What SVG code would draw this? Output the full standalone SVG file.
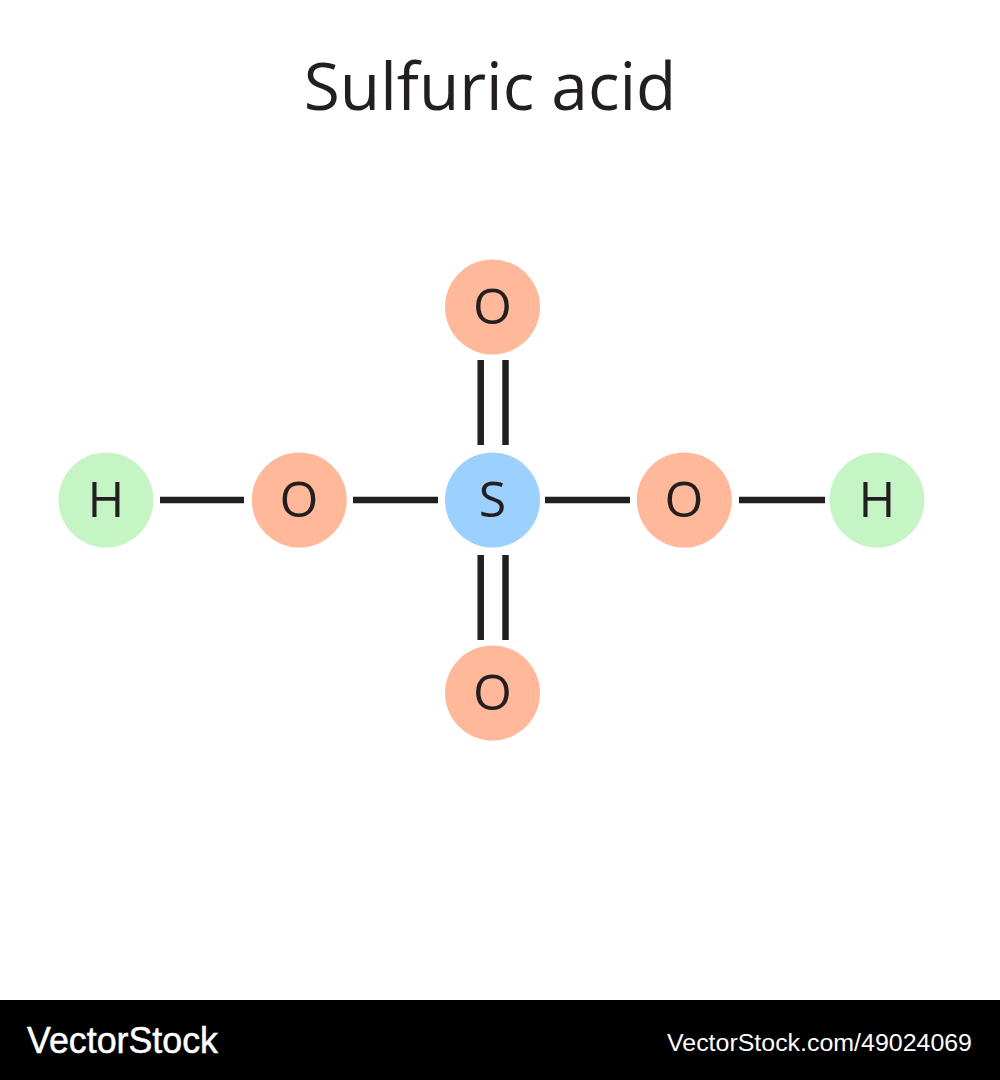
<svg xmlns="http://www.w3.org/2000/svg" width="1000" height="1080" viewBox="0 0 1000 1080">
<style>
.t{font-family:"Open Sans","Noto Sans",sans-serif;fill:#231f20;text-anchor:middle}
.a{font-size:50px}
.b{stroke:#231f20;stroke-width:6.500;fill:none}
.o{fill:#ffb899}.h{fill:#c5f5c5}.s{fill:#9bd0ff}
.w{font-family:"Liberation Sans",Arial,sans-serif;fill:#fff}
</style>
<rect width="1000" height="1080" fill="#fff"/>
<text id="title" class="t" x="490" y="110" font-size="65.800">Sulfuric acid</text>
<g id="connectors" class="b">
<path d="M160 500H244M353 500H438M545 500H630M739 500H825"/>
<path d="M480.700 360V445M505.500 360V445M480.700 555V640M505.500 555V640"/>
</g>
<g id="h1"><circle class="h" cx="106" cy="500" r="47.500"/><text class="t a" x="106" y="517">H</text></g>
<g id="o1"><circle class="o" cx="299.300" cy="500" r="47.500"/><text class="t a" x="299" y="517">O</text></g>
<g id="s"><circle class="s" cx="492.500" cy="500" r="47.500"/><text class="t a" x="492.500" y="517">S</text></g>
<g id="o2"><circle class="o" cx="684.300" cy="500" r="47.500"/><text class="t a" x="684" y="517">O</text></g>
<g id="h2"><circle class="h" cx="877" cy="500" r="47.500"/><text class="t a" x="877" y="517">H</text></g>
<g id="o3"><circle class="o" cx="492.500" cy="307" r="47.500"/><text class="t a" x="492.500" y="324">O</text></g>
<g id="o4"><circle class="o" cx="492.500" cy="693" r="47.500"/><text class="t a" x="492.500" y="710">O</text></g>
<rect x="0" y="1000" width="1000" height="80" fill="#000"/>
<text class="w" x="27" y="1052.500" font-size="36" stroke="#fff" stroke-width="0.500" textLength="191" lengthAdjust="spacingAndGlyphs">VectorStock</text>
<text class="w" x="667" y="1051" font-size="23" textLength="305" lengthAdjust="spacingAndGlyphs">VectorStock.com/49024069</text>
</svg>
